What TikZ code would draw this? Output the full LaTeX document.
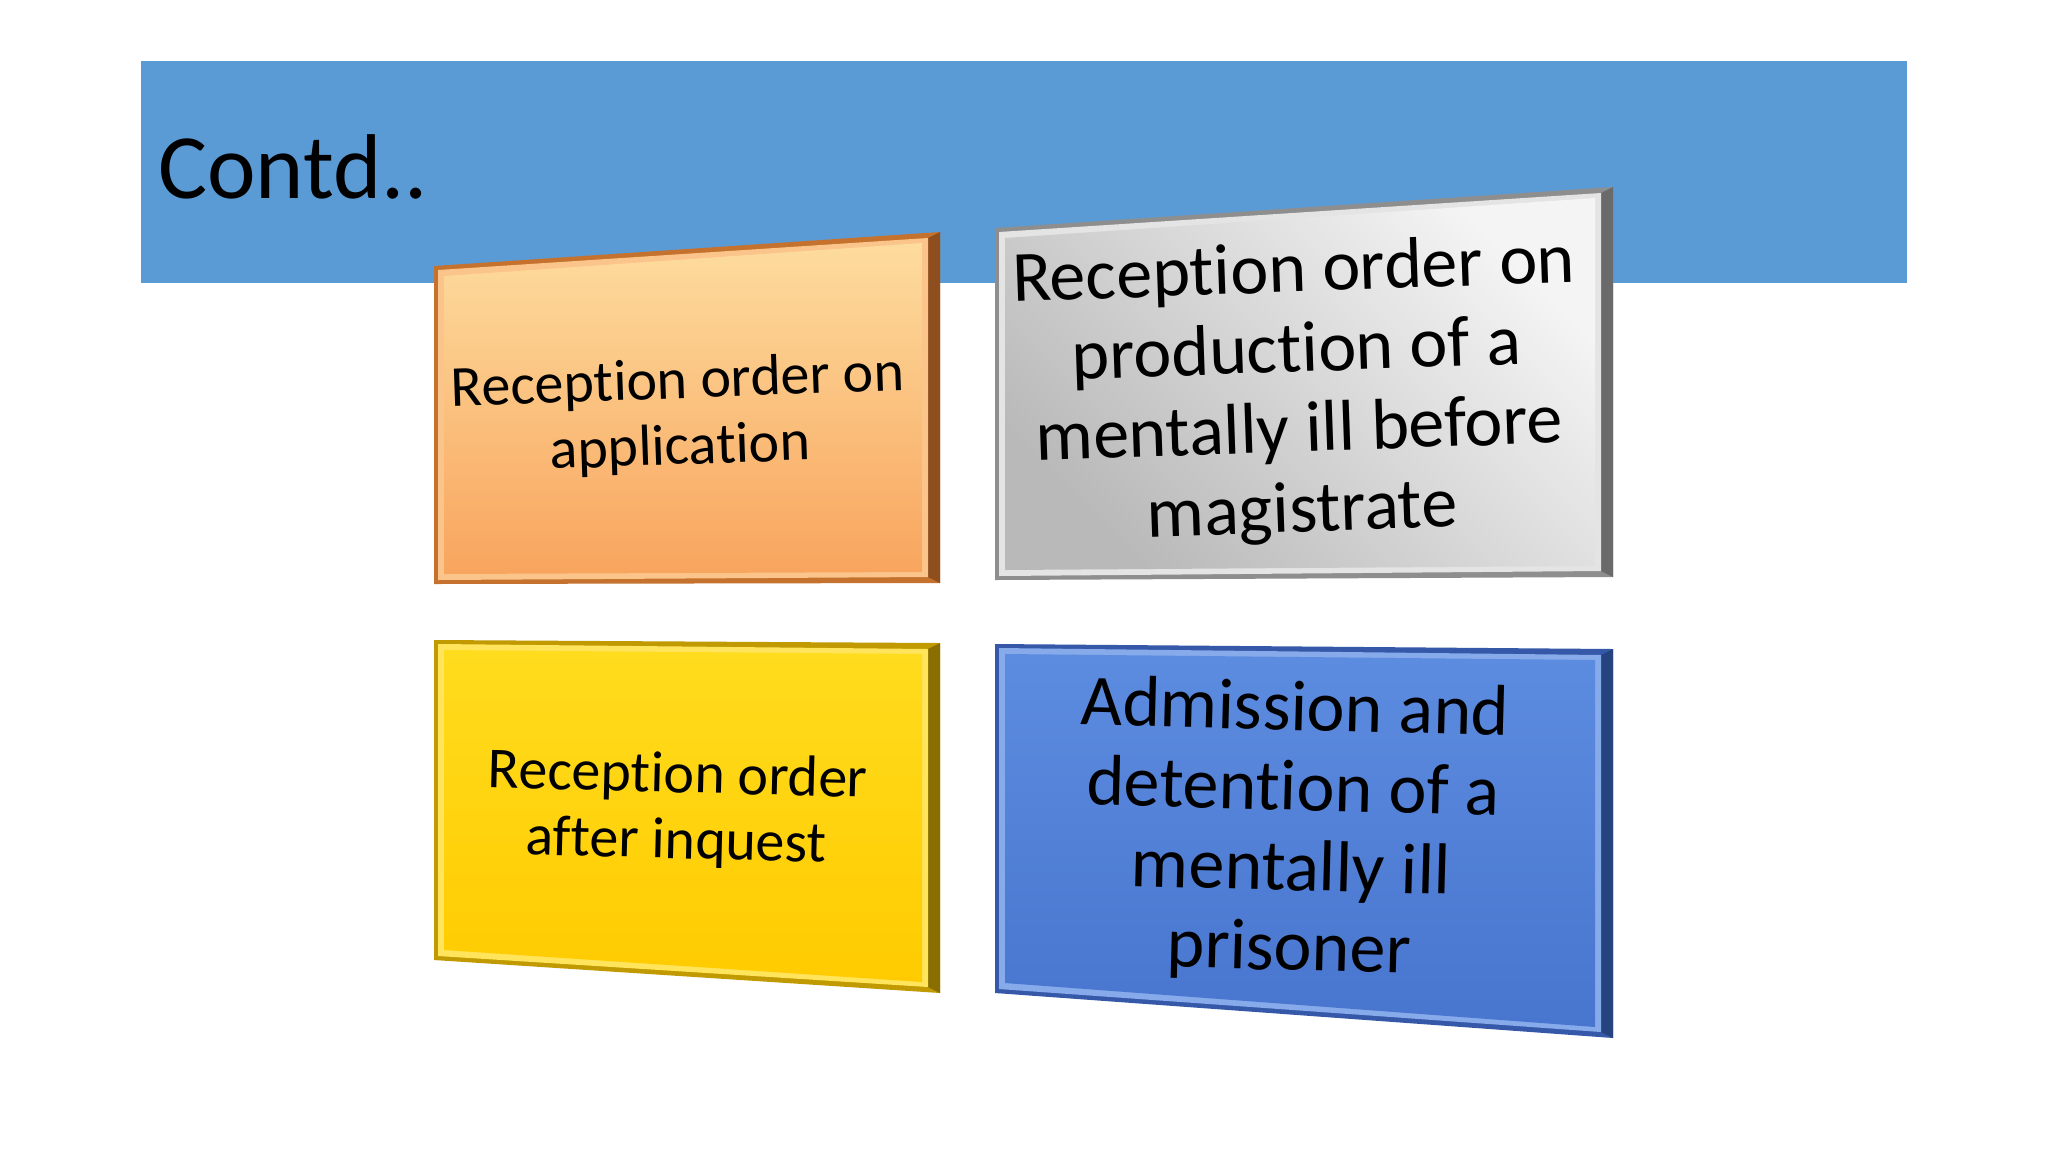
\documentclass[tikz,border=0pt]{standalone}
\usepackage{fontspec}
\setmainfont{Carlito}[RawFeature={-liga;-clig;-dlig;-calt}]
\usetikzlibrary{positioning,calc}
\definecolor{banner}{HTML}{5B9BD5}
\definecolor{oedge}{HTML}{C4722E}
\definecolor{oside}{HTML}{8E4E1E}
\definecolor{obev}{HTML}{FBC48A}
\definecolor{otop}{HTML}{FDDC9E}
\definecolor{obot}{HTML}{F8A55E}
\definecolor{gedge}{HTML}{8E8E8E}
\definecolor{gside}{HTML}{6A6A6A}
\definecolor{gbev}{HTML}{E4E4E4}
\definecolor{gtop}{HTML}{F4F4F4}
\definecolor{gbot}{HTML}{B9B9B9}
\definecolor{yedge}{HTML}{C09A00}
\definecolor{yside}{HTML}{8A6E00}
\definecolor{ybev}{HTML}{FFE45C}
\definecolor{ytop}{HTML}{FFDC1E}
\definecolor{ybot}{HTML}{FFCB00}
\definecolor{bedge}{HTML}{3559A8}
\definecolor{bside}{HTML}{24437F}
\definecolor{bbev}{HTML}{86AAEA}
\definecolor{btop}{HTML}{5C8CE0}
\definecolor{bbot}{HTML}{4875CE}

\begin{document}
\begin{tikzpicture}[
      x=0.5pt,y=-0.5pt,
      boxtext/.style={align=center,inner sep=0pt,font=\fontsize{29}{33}\selectfont},
      bigtext/.style={boxtext,font=\fontsize{36}{40}\selectfont},
    ]
    \useasboundingbox (0,0) rectangle (2048,1152);
    \fill[white] (0,0) rectangle (2048,1152);
    \fill[banner] (141,61) rectangle (1907,283);
    \node[anchor=base west,inner sep=0pt,font=\fontsize{46}{52}\selectfont] (title) at (158,198) {Contd..};
    % corners of the four tilted panels
    \coordinate (o1) at (434,266);  \coordinate (o2) at (940,232);
    \coordinate (o3) at (940,583);  \coordinate (o4) at (434,584);
    \coordinate (g1) at (995,228);  \coordinate (g2) at (1613,187);
    \coordinate (g3) at (1613,577); \coordinate (g4) at (995,580);
    \coordinate (y1) at (434,640);  \coordinate (y2) at (940,643);
    \coordinate (y3) at (940,993);  \coordinate (y4) at (434,960);
    \coordinate (b1) at (995,644);  \coordinate (b2) at (1613,649);
    \coordinate (b3) at (1613,1038);\coordinate (b4) at (995,993);
    \foreach \b/\edge/\side/\bev/\top/\bot/\ang in {o/oedge/oside/obev/otop/obot/0,
        g/gedge/gside/gbev/gtop/gbot/-45, y/yedge/yside/ybev/ytop/ybot/0, b/bedge/bside/bbev/btop/bbot/0} {
      \fill[\edge] (\b1) -- (\b2) -- (\b3) -- (\b4) -- cycle;
      \fill[\side] ($(\b2)+(-12,6)$) -- (\b2) -- (\b3) -- ($(\b3)+(-12,-6)$) -- cycle;
      \fill[\bev] ($(\b1)+(4,4)$) -- ($(\b2)+(-12,6)$) -- ($(\b3)+(-12,-6)$) -- ($(\b4)+(4,-4)$) -- cycle;
      \shade[top color=\top,bottom color=\bot,shading angle=\ang]
        ($(\b1)+(10,10)$) -- ($(\b2)+(-18,11)$) -- ($(\b3)+(-18,-11)$) -- ($(\b4)+(10,-10)$) -- cycle;
    }
    \node[boxtext,rotate=2] (apply) at (679,416) {Reception order on\\application};
    \node[bigtext,rotate=2] (produce) at (1298,393) {Reception order on\\production of a\\mentally ill before\\magistrate};
    \node[boxtext,rotate=-1.5] (inquest) at (677,810) {Reception order\\after inquest};
    \node[bigtext,rotate=-1.5] (prisoner) at (1292,831) {Admission and\\detention of a\\mentally ill\\prisoner};
  \end{tikzpicture}
\end{document}
